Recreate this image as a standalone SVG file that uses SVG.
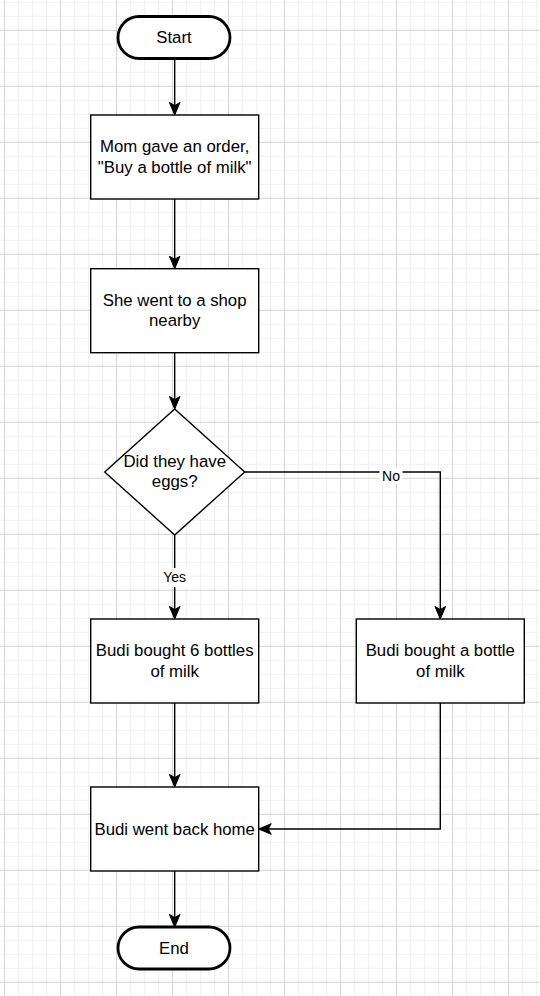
<svg xmlns="http://www.w3.org/2000/svg" width="540" height="996" viewBox="0 0 540 996">
<defs>
<pattern id="grid" patternUnits="userSpaceOnUse" x="4.1" y="29.8" width="56" height="56">
<rect width="56" height="56" fill="#ffffff"/>
<path d="M14.5 0V56M28.5 0V56M42.5 0V56M0 14.5H56M0 28.5H56M0 42.5H56" stroke="#f1f1f1" stroke-width="1.2" fill="none"/>
<path d="M0.5 0V56M0 0.5H56" stroke="#d3d3d3" stroke-width="1" fill="none"/>
</pattern>
<marker id="arr" markerUnits="userSpaceOnUse" viewBox="-13 -6 14 12" refX="0" refY="0" markerWidth="14" markerHeight="12" orient="auto">
<path d="M0 0L-12.5 -5.3L-9.5 0L-12.5 5.3Z" fill="#000" stroke="#000" stroke-width="1"/>
</marker>
<style>
.box{fill:#fff;stroke:#000;stroke-width:1.4}
.term{fill:#fff;stroke:#000;stroke-width:2.8}
.t{font-family:"Liberation Sans",Arial,Helvetica,sans-serif;font-size:16.8px;fill:#000;text-anchor:middle}
.lbl{font-family:"Liberation Sans",Arial,Helvetica,sans-serif;font-size:14px;fill:#000;text-anchor:middle}
.c{fill:none;stroke:#000;stroke-width:1.4;marker-end:url(#arr)}
</style>
</defs>
<rect x="0" y="0" width="540" height="996" fill="url(#grid)"/>
<g id="connectors">
<path class="c" d="M174.7 58.7V115"/>
<path class="c" d="M174.7 199V268.7"/>
<path class="c" d="M174.7 352.7V409"/>
<path class="c" d="M174.7 535V619"/>
<path class="c" d="M244.7 472H440.3V619"/>
<path class="c" d="M174.7 703V787"/>
<path class="c" d="M440.3 703V829H258.7"/>
<path class="c" d="M174.7 871V927"/>
<rect x="161" y="568" width="28" height="19" fill="#fff"/>
<text class="lbl" x="174.7" y="582">Yes</text>
<rect x="379.5" y="467" width="23" height="17" fill="#fff"/>
<text class="lbl" x="391" y="481">No</text>
</g>
<g id="start">
<rect class="term" x="118" y="16.5" width="112" height="42" rx="21" ry="21"/>
<text class="t" x="174" y="43">Start</text>
</g>
<g id="order">
<rect class="box" x="90.7" y="115" width="168" height="84"/>
<text class="t" x="174.7" y="152.3">Mom gave an order,</text>
<text class="t" x="174.7" y="173.3">"Buy a bottle of milk"</text>
</g>
<g id="shop">
<rect class="box" x="90.7" y="268.7" width="168" height="84"/>
<text class="t" x="174.7" y="305.7">She went to a shop</text>
<text class="t" x="174.7" y="326">nearby</text>
</g>
<g id="decision">
<path class="box" d="M174.7 409L244.7 472L174.7 535L104.7 472Z"/>
<text class="t" x="174.7" y="466.7">Did they have</text>
<text class="t" x="174.7" y="487">eggs?</text>
</g>
<g id="six">
<rect class="box" x="90.7" y="619" width="168" height="84"/>
<text class="t" x="174.7" y="656">Budi bought 6 bottles</text>
<text class="t" x="174.7" y="676.5">of milk</text>
</g>
<g id="one">
<rect class="box" x="356.3" y="619" width="168" height="84"/>
<text class="t" x="440.3" y="656">Budi bought a bottle</text>
<text class="t" x="440.3" y="676.5">of milk</text>
</g>
<g id="home">
<rect class="box" x="90.7" y="787" width="168" height="84"/>
<text class="t" x="174.7" y="834.5">Budi went back home</text>
</g>
<g id="end">
<rect class="term" x="118" y="927" width="112" height="42" rx="21" ry="21"/>
<text class="t" x="174" y="953.5">End</text>
</g>
</svg>
